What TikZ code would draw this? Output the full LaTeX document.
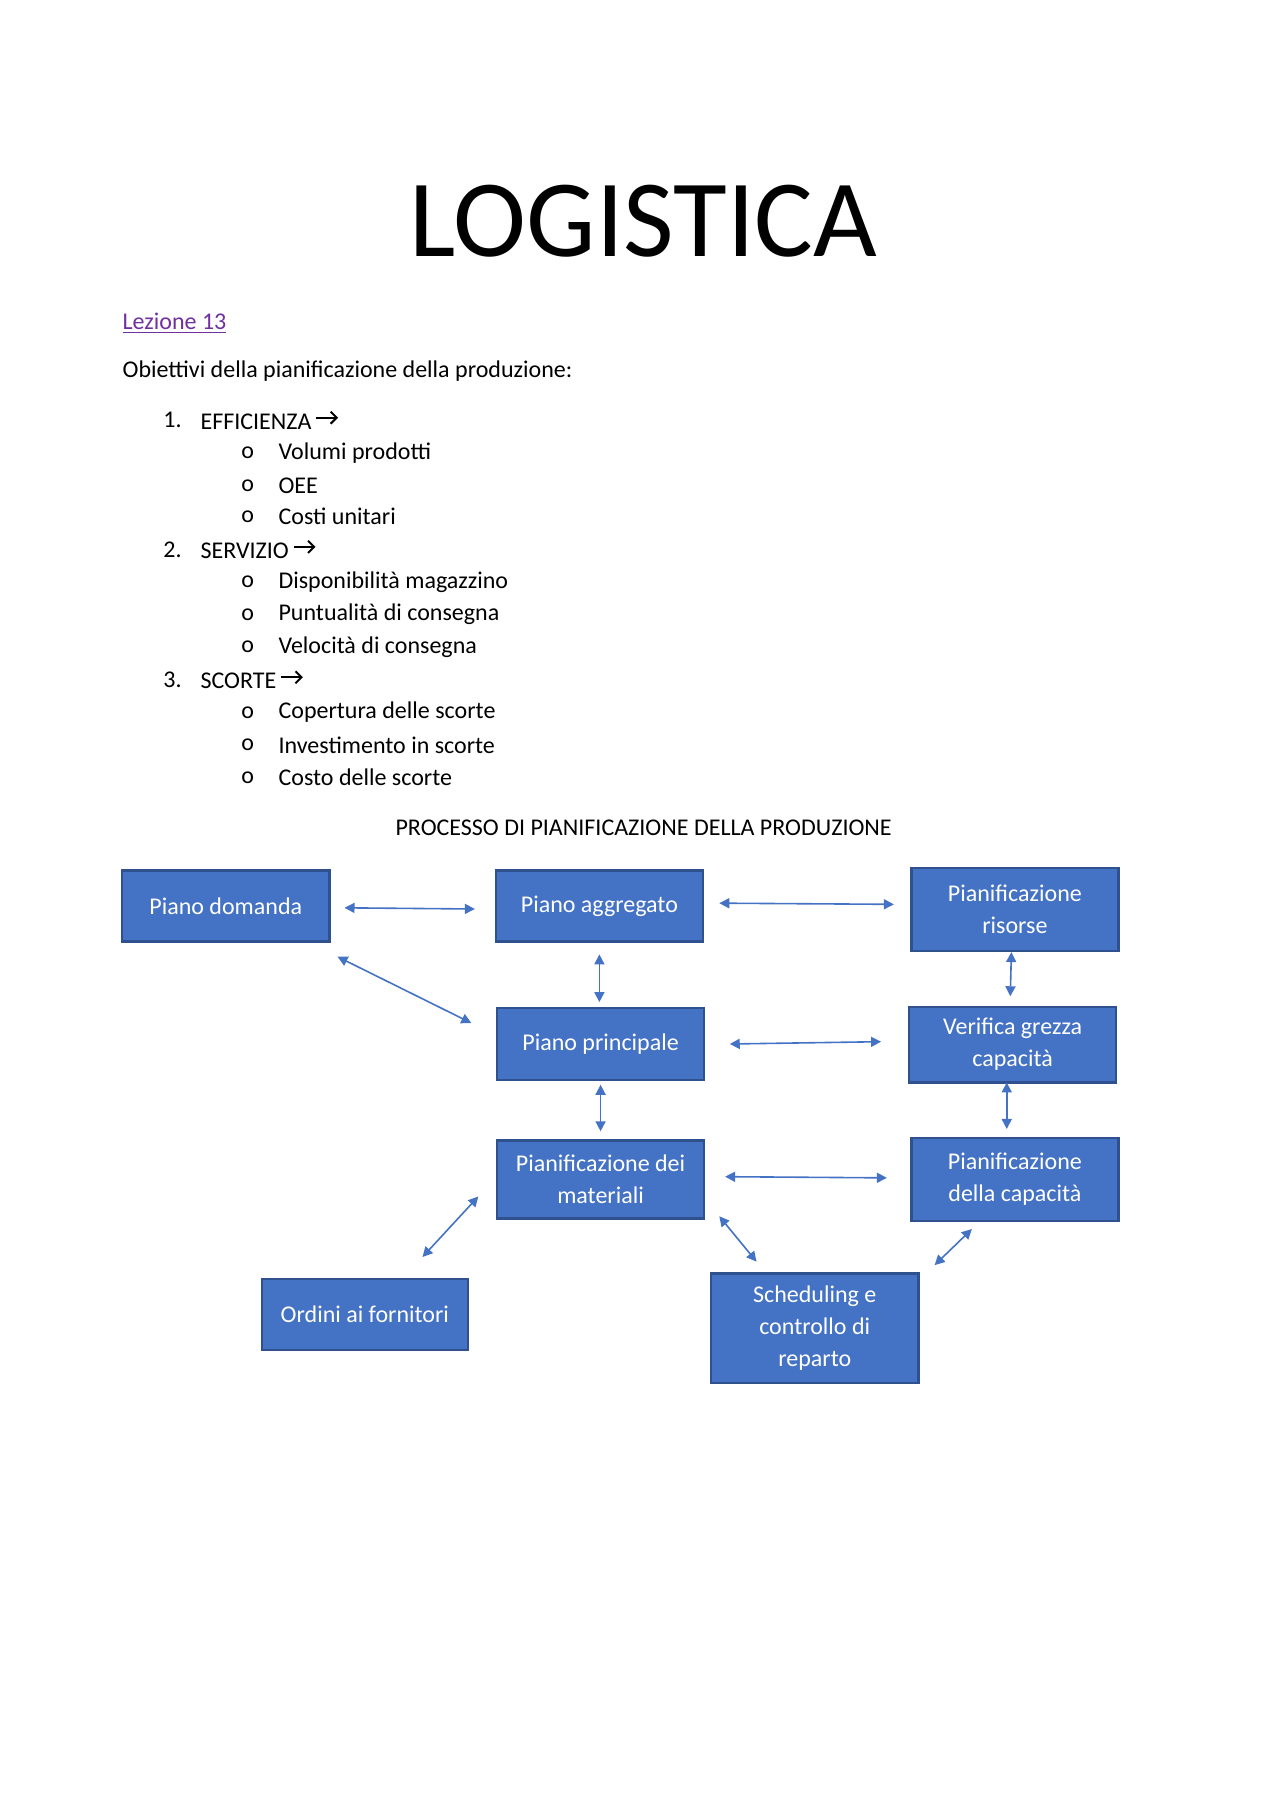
\documentclass[tikz,border=0pt]{standalone}
\usepackage{fontspec}
\setmainfont{Carlito}
\usetikzlibrary{arrows.meta}
\definecolor{bx}{HTML}{4472C4}
\definecolor{bd}{HTML}{2F528F}
\definecolor{lnk}{HTML}{7030A0}
\newcommand{\myarr}{\,\tikz[baseline=-0.5ex]\draw[line width=1pt,-{Straight Barb[length=3pt,width=6pt]}] (0,0.25em) -- (0.9em,0.25em);}
\begin{document}
\begin{tikzpicture}[x=0.5818pt,y=-0.5818pt,
  box/.style={draw=bd,line width=1.2pt,fill=bx,text=white,align=center,font=\fontsize{12}{16}\selectfont,inner sep=0pt},
  ar/.style={draw=bx,line width=0.8pt,{Triangle[width=5pt,length=5pt]}-{Triangle[width=5pt,length=5pt]}},
  tx/.style={anchor=west,inner sep=0pt,font=\fontsize{12}{14}\selectfont}]
\useasboundingbox (0,0) rectangle (1100,1556);
\node[font=\fontsize{55}{60}\selectfont,inner sep=0pt] (title) at (553,190) {LOGISTICA};
\node[tx,text=lnk] (lez) at (105,278) {\underline{Lezione 13}};
\node[tx] (obj) at (105,319) {Obiettivi della pianificazione della produzione:};
\node[tx] (n1) at (140,361) {1.};
\node[tx] (h1) at (172,361) {EFFICIENZA\myarr};
\node[tx] (b1) at (207,389) {o}; \node[tx] (t1) at (239,389) {Volumi prodotti};
\node[tx] (b2) at (207,417) {o}; \node[tx] (t2) at (239,417) {OEE};
\node[tx] (b3) at (207,444) {o}; \node[tx] (t3) at (239,444) {Costi unitari};
\node[tx] (n2) at (140,472) {2.};
\node[tx] (h2) at (172,472) {SERVIZIO\myarr};
\node[tx] (b4) at (207,500) {o}; \node[tx] (t4) at (239,500) {Disponibilità magazzino};
\node[tx] (b5) at (207,528) {o}; \node[tx] (t5) at (239,528) {Puntualità di consegna};
\node[tx] (b6) at (207,556) {o}; \node[tx] (t6) at (239,556) {Velocità di consegna};
\node[tx] (n3) at (140,584) {3.};
\node[tx] (h3) at (172,584) {SCORTE\myarr};
\node[tx] (b7) at (207,612) {o}; \node[tx] (t7) at (239,612) {Copertura delle scorte};
\node[tx] (b8) at (207,640) {o}; \node[tx] (t8) at (239,640) {Investimento in scorte};
\node[tx] (b9) at (207,668) {o}; \node[tx] (t9) at (239,668) {Costo delle scorte};
\node[inner sep=0pt,font=\fontsize{12}{14}\selectfont] (proc) at (553,711) {PROCESSO DI PIANIFICAZIONE DELLA PRODUZIONE};
% boxes
\node[box,minimum width=178*0.5818pt,minimum height=61*0.5818pt] (pd) at (194,778.5) {Piano domanda};
\node[box,minimum width=178*0.5818pt,minimum height=61*0.5818pt] (pa) at (515,778.5) {Piano aggregato};
\node[box,minimum width=178*0.5818pt,minimum height=71*0.5818pt] (pr) at (872,781.5) {Pianificazione\\risorse};
\node[box,minimum width=178*0.5818pt,minimum height=62*0.5818pt] (pp) at (516,897) {Piano principale};
\node[box,minimum width=178*0.5818pt,minimum height=65*0.5818pt] (vg) at (870,897.5) {Verifica grezza\\capacità};
\node[box,minimum width=178*0.5818pt,minimum height=67*0.5818pt] (pm) at (516,1013.5) {Pianificazione dei\\materiali};
\node[box,minimum width=178*0.5818pt,minimum height=71*0.5818pt] (pc) at (872,1013.5) {Pianificazione\\della capacità};
\node[box,minimum width=177*0.5818pt,minimum height=61*0.5818pt] (of) at (313.5,1129.5) {Ordini ai fornitori};
\node[box,minimum width=178*0.5818pt,minimum height=94*0.5818pt] (sc) at (700,1141) {Scheduling e\\controllo di\\reparto};
% arrow end points
\coordinate (a1) at (296,780); \coordinate (a2) at (408,781);
\coordinate (c1) at (618,776); \coordinate (c2) at (768,777);
\coordinate (d1) at (290,822); \coordinate (d2) at (405,879);
\coordinate (e1) at (515,820); \coordinate (e2) at (515,861);
\coordinate (f1) at (869,818); \coordinate (f2) at (868,856);
\coordinate (g1) at (627,897); \coordinate (g2) at (757,895);
\coordinate (h1c) at (516,932); \coordinate (h2c) at (516,972);
\coordinate (i1) at (865,930); \coordinate (i2) at (865,970);
\coordinate (j1) at (623,1011); \coordinate (j2) at (762,1012);
\coordinate (k1) at (411,1028); \coordinate (k2) at (363,1080);
\coordinate (l1) at (618,1045); \coordinate (l2) at (650,1084);
\coordinate (m1) at (835,1056); \coordinate (m2) at (803,1087);
\draw[ar] (a1) -- (a2);
\draw[ar] (c1) -- (c2);
\draw[ar] (d1) -- (d2);
\draw[ar] (e1) -- (e2);
\draw[ar] (f1) -- (f2);
\draw[ar] (g1) -- (g2);
\draw[ar] (h1c) -- (h2c);
\draw[ar] (i1) -- (i2);
\draw[ar] (j1) -- (j2);
\draw[ar] (k1) -- (k2);
\draw[ar] (l1) -- (l2);
\draw[ar] (m1) -- (m2);
\end{tikzpicture}
\end{document}
